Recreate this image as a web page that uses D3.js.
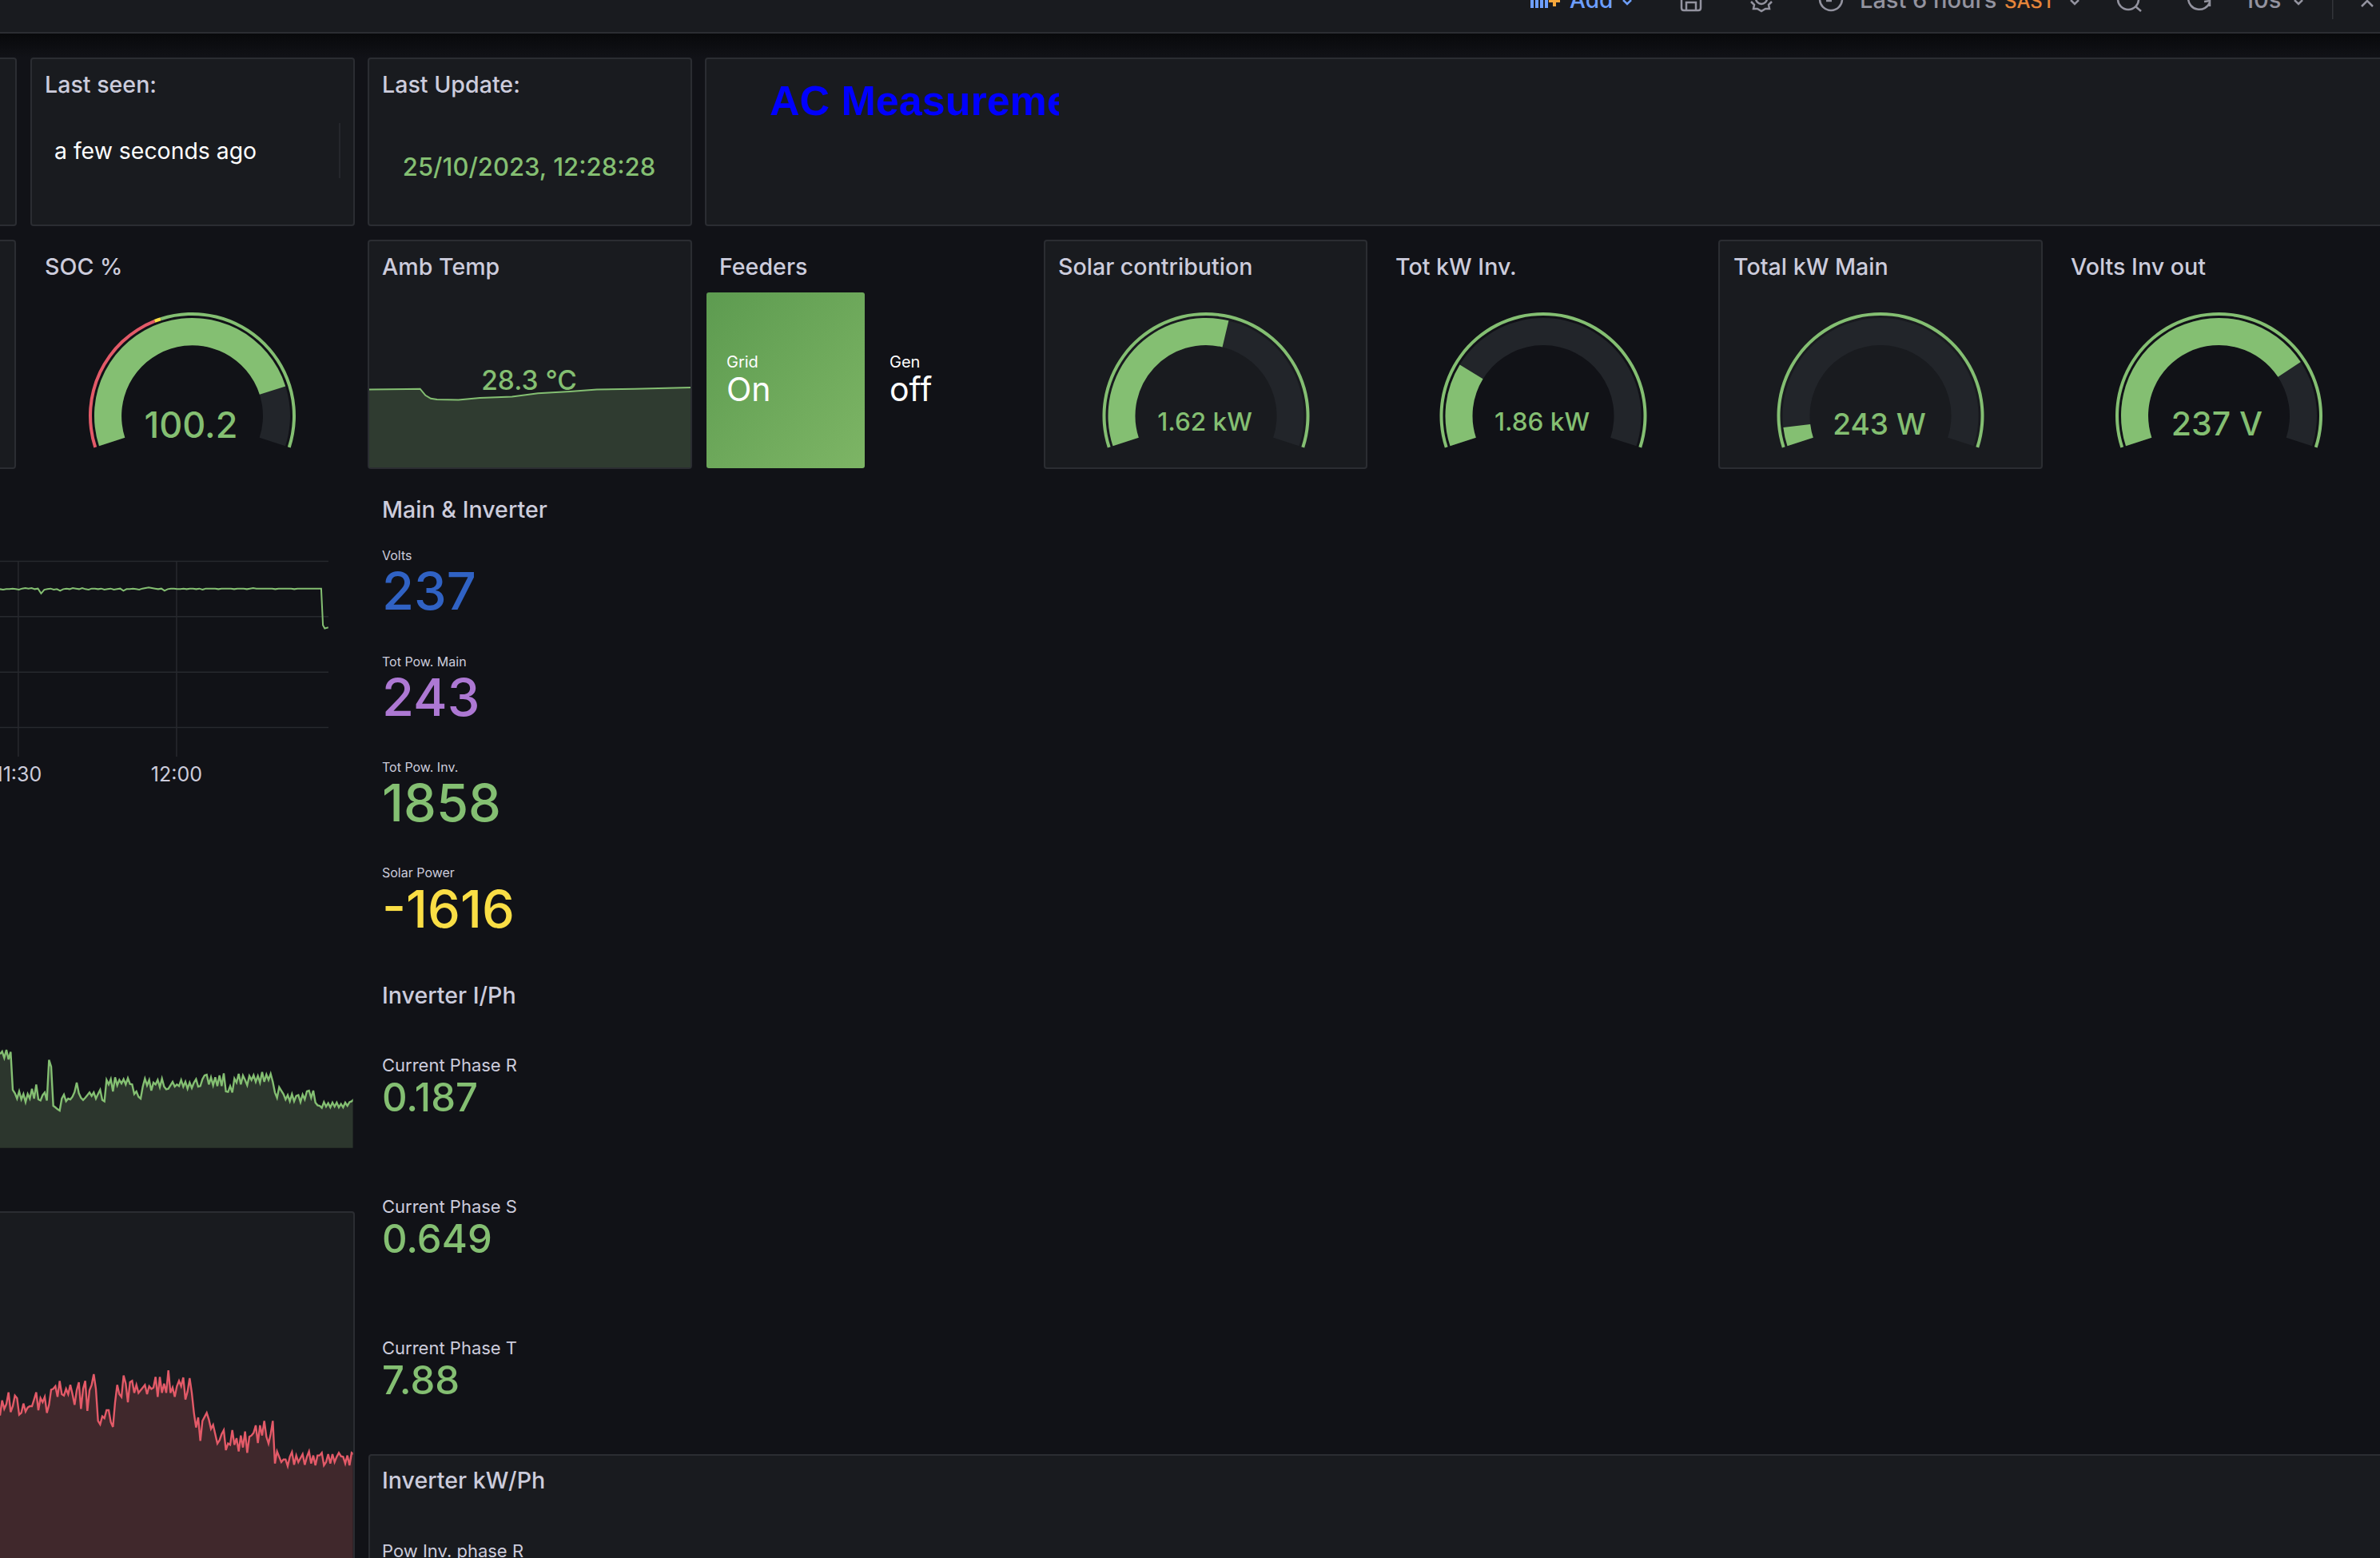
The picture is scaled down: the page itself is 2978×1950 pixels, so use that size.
<!DOCTYPE html>
<html>
<head>
<meta charset="utf-8">
<script src="https://cdn.jsdelivr.net/npm/d3@7"></script>
<style>
  html, body { margin: 0; padding: 0; background: #111217; overflow: hidden; }
  text { font-family: Inter, "Noto Sans", sans-serif; }
</style>
</head>
<body>
<svg id="dash" width="2978" height="1950"></svg>
<script>
// gauges
const gaugeTitles = ['SOC %', 'Solar contribution', 'Tot kW Inv.', 'Total kW Main', 'Volts Inv out'];
const gaugeValues = [100.2, 1616, 1858, 243, 237];
const gaugeLabels = ['100.2', '1.62 kW', '1.86 kW', '243 W', '237 V'];
const gaugeMaxes = [120, 2875, 8100, 4700, 311];
const socThresholds = [0, 48, 50, 120];

// stats
const mainLabels = ['Volts', 'Tot Pow. Main', 'Tot Pow. Inv.', 'Solar Power'];
const mainValues = ['237', '243', '1858', '-1616'];
const phaseLabels = ['Current Phase R', 'Current Phase S', 'Current Phase T'];
const phaseValues = ['0.187', '0.649', '7.88'];

// amb temp sparkline, minutes into the 6h range
const tempMinutes = [0, 57, 63, 69, 76, 100, 124, 160, 189, 225, 255, 297, 360];
const tempValues = [28.14, 28.2, 27.7, 27.46, 27.38, 27.36, 27.5, 27.6, 27.86, 28.0, 28.14, 28.2, 28.3];

// volts graph, one sample every 36 s from 11:26:36
const voltSamples = [
  244.9, 244.8, 244.9, 244.9, 245.0, 244.9, 244.8, 245.0, 245.1, 245.0, 245.1, 244.9, 245.0, 244.1, 244.8, 244.9,
  245.0, 244.8, 244.9, 244.6, 244.9, 245.0, 244.9, 245.1, 245.0, 244.9, 245.1, 244.9, 244.8, 245.0, 245.0, 244.9,
  245.0, 244.8, 244.9, 245.0, 244.8, 244.9, 245.0, 244.6, 244.9, 244.9, 245.0, 244.9, 244.8, 245.0, 245.1, 245.2,
  245.1, 245.0, 244.9, 245.0, 244.6, 244.9, 245.0, 245.0, 244.9, 244.9, 245.0, 244.9, 245.0, 245.0, 244.9, 245.0,
  244.8, 245.0, 245.0, 245.0, 245.0, 244.9, 245.0, 245.0, 245.0, 245.0, 244.9, 245.0, 245.0, 245.0, 244.9, 245.0,
  245.1, 245.0, 245.0, 245.0, 245.0, 245.0, 245.0, 244.9, 245.0, 245.0, 245.0, 245.0, 245.0, 244.9, 245.0, 245.0,
  245.0, 245.0, 245.0, 245.0, 245.0
];
const voltTailTimes = ['12:27:30', '12:27:50', '12:28:10', '12:28:50'];
const voltTailValues = [245.0, 238.4, 237.8, 238.0];
const voltGridTicks = [250, 240, 230, 220];

// green and red graphs, evenly spaced samples
const greenSamples = [
  3.52, 3.62, 3.38, 3.68, 3.32, 3.60, 2.18, 2.05, 1.85, 2.12, 1.82, 2.02, 1.72, 2.02, 1.85, 2.22, 1.85, 2.38, 1.82,
  1.78, 1.98, 2.08, 1.78, 3.30, 3.05, 1.58, 1.52, 1.45, 1.40, 1.85, 2.00, 1.75, 1.85, 1.82, 1.92, 2.10, 2.45, 2.05,
  1.88, 1.80, 1.88, 1.98, 2.08, 1.95, 2.08, 1.85, 2.02, 2.18, 1.80, 1.75, 2.55, 2.38, 2.58, 2.12, 2.65, 2.35, 2.55,
  2.42, 2.58, 2.38, 2.62, 2.40, 2.38, 2.02, 2.12, 1.92, 1.85, 2.30, 2.60, 2.35, 2.55, 2.15, 2.45, 2.38, 2.55, 2.28,
  2.60, 2.30, 2.20, 2.22, 2.35, 2.48, 2.30, 2.38, 2.32, 2.55, 2.30, 2.48, 2.22, 2.45, 2.25, 2.45, 2.58, 2.30, 2.32,
  2.58, 2.72, 2.75, 2.38, 2.65, 2.35, 2.65, 2.32, 2.72, 2.32, 2.80, 2.12, 2.10, 2.32, 2.08, 2.60, 2.45, 2.78, 2.38,
  2.72, 2.55, 2.35, 2.70, 2.55, 2.73, 2.48, 2.70, 2.45, 2.85, 2.48, 2.75, 2.55, 2.78, 2.48, 2.08, 1.88, 2.28, 2.15,
  2.02, 1.82, 1.98, 1.75, 2.02, 1.75, 1.95, 1.98, 1.72, 2.00, 1.82, 2.12, 2.15, 1.88, 2.15, 1.70, 1.60, 1.58, 1.50,
  1.72, 1.55, 1.68, 1.52, 1.70, 1.55, 1.70, 1.52, 1.65, 1.52, 1.70, 1.58, 1.72, 1.75, 1.82
];
const redSamples = [
  5.35, 5.92, 5.60, 5.78, 6.22, 5.48, 5.70, 6.10, 6.00, 5.38, 5.45, 5.80, 5.50, 5.65, 5.70, 5.70, 5.95, 6.22, 5.55,
  6.00, 5.85, 6.05, 5.45, 5.75, 6.32, 6.35, 6.45, 6.05, 6.65, 6.15, 6.10, 6.35, 6.15, 6.50, 6.15, 5.75, 6.30, 6.60,
  5.60, 6.35, 6.65, 5.52, 6.30, 6.50, 6.90, 6.35, 5.15, 5.02, 5.32, 5.25, 5.55, 5.55, 5.10, 4.92, 5.85, 6.50, 6.15,
  6.05, 6.85, 6.55, 5.85, 6.60, 6.65, 6.20, 6.50, 6.20, 6.30, 6.40, 6.50, 6.15, 6.45, 6.35, 6.40, 6.80, 6.05, 6.80,
  6.20, 6.55, 6.20, 7.05, 6.20, 6.40, 6.05, 6.45, 6.65, 6.45, 6.78, 5.95, 6.25, 6.75, 6.20, 5.45, 4.90, 5.28, 4.40,
  5.15, 5.30, 5.45, 5.20, 4.85, 5.00, 4.65, 4.30, 4.42, 4.65, 4.80, 4.05, 4.30, 4.25, 4.80, 4.25, 4.50, 4.00, 4.60,
  4.15, 4.75, 3.95, 4.55, 4.60, 4.70, 4.98, 4.32, 4.98, 4.60, 5.15, 4.55, 4.30, 4.65, 5.15, 3.55, 4.00, 3.80, 3.60,
  3.70, 3.70, 3.45, 3.80, 3.98, 3.50, 3.85, 3.60, 3.75, 3.90, 3.50, 3.80, 4.00, 3.55, 3.85, 3.48, 3.85, 3.85, 3.95,
  3.48, 3.60, 3.90, 3.55, 3.90, 3.60, 3.80, 3.95, 3.82, 3.80, 3.55, 3.85, 3.48, 3.95, 3.90
];

const BG = '#111217', PANEL = '#191b1f', BORDER = '#2b2d32', TITLE = '#ccccdc';
const GREEN = '#84bf72', RED = '#e35a68', YELLOW = '#fade45', TRACK = '#22252a';

const svg = d3.select('#dash');
const defs = svg.append('defs');
const rad = d => d * Math.PI / 180;

const clip = (id, x, y, w, h) =>
  defs.append('clipPath').attr('id', id).append('rect').attr('x', x).attr('y', y).attr('width', w).attr('height', h);

const grad = defs.append('linearGradient').attr('id', 'shade').attr('x1', 0).attr('x2', 0).attr('y1', 0).attr('y2', 1);
grad.append('stop').attr('offset', 0).attr('stop-color', '#08090b');
grad.append('stop').attr('offset', 1).attr('stop-color', BG);

const gridGrad = defs.append('linearGradient').attr('id', 'gridBg').attr('x1', 0).attr('x2', 1).attr('y1', 0).attr('y2', 1);
gridGrad.append('stop').attr('offset', 0).attr('stop-color', '#5d9b50');
gridGrad.append('stop').attr('offset', 1).attr('stop-color', '#7db565');

const panel = (x, y, w, h) =>
  svg.append('rect').attr('x', x + 1).attr('y', y + 1).attr('width', w - 2).attr('height', h - 2)
    .attr('rx', 3).attr('fill', PANEL).attr('stroke', BORDER).attr('stroke-width', 2);

const label = (x, y, str, size, fill, weight = 400) =>
  svg.append('text').attr('x', x).attr('y', y).attr('font-size', size).attr('font-weight', weight).attr('fill', fill).text(str);

const title = (x, y, str) => label(x, y, str, 28.6, TITLE, 500);

// page + toolbar
svg.append('rect').attr('width', 2978).attr('height', 1950).attr('fill', BG);
svg.append('rect').attr('y', 42).attr('width', 2978).attr('height', 30).attr('fill', 'url(#shade)');
svg.append('rect').attr('width', 2978).attr('height', 40).attr('fill', PANEL);
svg.append('rect').attr('y', 40).attr('width', 2978).attr('height', 2).attr('fill', BORDER);

const DIM = '#93939f';
label(1964, 10, 'Add', 28, '#6e9fff', 500);
label(2327, 10, 'Last 6 hours', 29, DIM, 500);
label(2508, 10, 'SAST', 24, '#e5853a', 500);
label(2808, 10, '10s', 29, DIM, 500);
[1915, 1921, 1927, 1933].forEach(x =>
  svg.append('rect').attr('x', x).attr('y', 0).attr('width', 4).attr('height', 10).attr('fill', '#6e9fff'));
svg.append('path').attr('d', 'M1945,-6V8M1938,1H1952').attr('stroke', '#f5a73c').attr('stroke-width', 4).attr('fill', 'none');
const chevrons = [2036, 2596, 2876];
chevrons.forEach((x, i) =>
  svg.append('path').attr('d', `M${x - 5},0L${x},5L${x + 5},0`).attr('fill', 'none')
    .attr('stroke', i ? DIM : '#6e9fff').attr('stroke-width', 2.5));
const icon = d => svg.append('path').attr('d', d).attr('fill', 'none').attr('stroke', DIM).attr('stroke-width', 2.5);
icon('M2104,-5V10Q2104,13 2107,13H2125Q2128,13 2128,10V-5M2110,13V3H2122V13');
icon('M2191,2L2195,6L2194,11L2199,11L2204,14L2209,11L2214,11L2213,6L2217,2');
svg.append('circle').attr('cx', 2204).attr('cy', -2).attr('r', 7).attr('fill', 'none').attr('stroke', DIM).attr('stroke-width', 2.5);
svg.append('circle').attr('cx', 2291).attr('cy', -1).attr('r', 14).attr('fill', 'none').attr('stroke', DIM).attr('stroke-width', 2.5);
icon('M2285,1H2292');
svg.append('circle').attr('cx', 2663).attr('cy', -1).attr('r', 13).attr('fill', 'none').attr('stroke', DIM).attr('stroke-width', 2.5);
icon('M2672,8L2679,14');
icon('M2738,-2A14,14 0 0 0 2765,3M2765,8L2765,1L2758,2');
svg.append('rect').attr('x', 2918).attr('y', 0).attr('width', 1.5).attr('height', 24).attr('fill', '#33353a');
icon('M2953,-4L2971,-4M2955,8L2962,1L2969,8');

// row 1
panel(-30, 72, 51, 211);
panel(38, 72, 406, 211);
panel(460, 72, 406, 211);
panel(882, 72, 2200, 211);
title(56, 116, 'Last seen:');
label(68, 199, 'a few seconds ago', 28.4, '#ffffff');
svg.append('rect').attr('x', 424.5).attr('y', 154).attr('width', 1).attr('height', 69).attr('fill', '#33353a');
title(478, 116, 'Last Update:');
svg.append('text').attr('x', 662).attr('y', 220).attr('text-anchor', 'middle').attr('font-size', 31)
  .attr('font-weight', 500).attr('fill', GREEN).text('25/10/2023, 12:28:28');
clip('acClip', 882, 72, 443, 211);
svg.append('text').attr('clip-path', 'url(#acClip)').attr('x', 963).attr('y', 144).attr('font-size', 52)
  .attr('font-weight', 700).attr('fill', '#0000ff').style('font-family', '"Liberation Sans", Arial, sans-serif').text('AC Measurements');

// row 2 panels
panel(-30, 300, 50, 287);
panel(460, 300, 406, 287);
panel(1306, 300, 405, 287);
panel(2150, 300, 406, 287);
title(478, 344, 'Amb Temp');
title(900, 344, 'Feeders');

// amb temp sparkline
const tempX = d3.scaleLinear().domain([0, 360]).range([462, 864]);
const tempY = d3.scaleLinear().domain([22.2, 28.3]).range([585, 485]);
const tempData = tempMinutes.map((m, i) => [m, tempValues[i]]);
svg.append('path').datum(tempData).attr('fill', '#2f3b30')
  .attr('d', d3.area().x(d => tempX(d[0])).y0(tempY(22.2)).y1(d => tempY(d[1])));
svg.append('path').datum(tempData).attr('fill', 'none').attr('stroke', GREEN).attr('stroke-width', 2)
  .attr('d', d3.line().x(d => tempX(d[0])).y(d => tempY(d[1])));
svg.append('text').attr('x', 662).attr('y', 488).attr('text-anchor', 'middle').attr('font-size', 33.5)
  .attr('font-weight', 500).attr('fill', GREEN).text('28.3 °C');

// feeders
svg.append('rect').attr('x', 884).attr('y', 366).attr('width', 198).attr('height', 220).attr('rx', 3).attr('fill', 'url(#gridBg)');
label(909, 460, 'Grid', 20, '#ffffff');
label(909, 502, 'On', 41, '#ffffff');
label(1113, 460, 'Gen', 20, '#ffffff');
label(1113, 502, 'off', 41, '#ffffff');

// gauges
const gaugeCx = [240.5, 1509, 1931, 2353, 2776.5];
const gaugeTextCx = [239, 1507.5, 1929.5, 2351.5, 2774];
const gaugeFont = [45, 31.5, 31.5, 37, 41];
const gaugeBase = [548, 539, 539, 544, 545];
const gaugeTitleX = [56, 1324, 1746, 2169, 2591];
const gaugeCy = 520.5;
const bar = d3.arc().innerRadius(88.5).outerRadius(122.5);
const ring = d3.arc().innerRadius(125.5).outerRadius(129.5);

gaugeTitles.forEach((name, i) => {
  const angle = d3.scaleLinear().domain([0, gaugeMaxes[i]]).range([rad(-108), rad(108)]);
  title(gaugeTitleX[i], 344, name);
  const g = svg.append('g').attr('transform', `translate(${gaugeCx[i]},${gaugeCy})`);
  g.append('path').attr('fill', TRACK).attr('d', bar({ startAngle: angle(0), endAngle: angle(gaugeMaxes[i]) }));
  g.append('path').attr('fill', GREEN).attr('d', bar({ startAngle: angle(0), endAngle: angle(gaugeValues[i]) }));
  const steps = i === 0 ? socThresholds : [0, gaugeMaxes[i]];
  const colors = i === 0 ? [RED, YELLOW, GREEN] : [GREEN];
  colors.forEach((c, k) =>
    g.append('path').attr('fill', c).attr('d', ring({ startAngle: angle(steps[k]), endAngle: angle(steps[k + 1]) })));
  svg.append('text').attr('x', gaugeTextCx[i]).attr('y', gaugeBase[i]).attr('text-anchor', 'middle')
    .attr('font-size', gaugeFont[i]).attr('font-weight', 500).attr('fill', GREEN).text(gaugeLabels[i]);
});

// volts graph
const parseT = d3.timeParse('%H:%M:%S');
const voltX = d3.scaleTime().domain([parseT('11:30:00'), parseT('12:00:00')]).range([22.4, 220.4]);
const voltY = d3.scaleLinear().domain([250, 220]).range([702, 910]);
const voltData = voltSamples.map((v, i) => [d3.timeSecond.offset(parseT('11:26:36'), i * 36), v])
  .concat(voltTailTimes.map((t, i) => [parseT(t), voltTailValues[i]]));

const yGrid = svg.append('g').attr('transform', 'translate(0,0)')
  .call(d3.axisRight(voltY).tickValues(voltGridTicks).tickSize(411).tickFormat(''));
yGrid.select('.domain').remove();
yGrid.selectAll('line').attr('stroke', '#27292e').attr('stroke-width', 1.5);

const xGrid = svg.append('g').attr('transform', 'translate(0,947)')
  .call(d3.axisBottom(voltX).tickValues([parseT('11:30:00'), parseT('12:00:00')]).tickSize(-245).tickPadding(20)
    .tickFormat(d3.timeFormat('%H:%M')));
xGrid.select('.domain').remove();
xGrid.selectAll('line').attr('stroke', '#27292e').attr('stroke-width', 1.5);
xGrid.selectAll('text').attr('fill', TITLE).attr('font-size', 25).attr('dy', 0).attr('y', 31);

svg.append('path').datum(voltData).attr('fill', 'none').attr('stroke', GREEN).attr('stroke-width', 2)
  .attr('d', d3.line().x(d => voltX(d[0])).y(d => voltY(d[1])));

// green + red graphs
const sampleX = n => d3.scaleLinear().domain([0, n - 1]).range([0, (n - 1) * 8 / 3]);
clip('greenClip', 0, 1270, 441.6, 180);
const gx = sampleX(greenSamples.length);
const gy = d3.scaleLinear().domain([0, 4.7]).range([1436.7, 1280]);
svg.append('path').datum(greenSamples).attr('clip-path', 'url(#greenClip)').attr('fill', '#2c362d')
  .attr('d', d3.area().x((d, i) => gx(i)).y0(gy(0)).y1(d => gy(d)));
svg.append('path').datum(greenSamples).attr('clip-path', 'url(#greenClip)').attr('fill', 'none').attr('stroke', GREEN).attr('stroke-width', 2.4)
  .attr('d', d3.line().x((d, i) => gx(i)).y(d => gy(d)));

panel(-30, 1516, 474, 460);
clip('redClip', 0, 1520, 441.6, 430);
const rx = sampleX(redSamples.length);
const ry = d3.scaleLinear().domain([0, 8.1]).range([1950, 1680]);
svg.append('path').datum(redSamples).attr('clip-path', 'url(#redClip)').attr('fill', '#40282c')
  .attr('d', d3.area().x((d, i) => rx(i)).y0(ry(0)).y1(d => ry(d)));
svg.append('path').datum(redSamples).attr('clip-path', 'url(#redClip)').attr('fill', 'none').attr('stroke', RED).attr('stroke-width', 2.4)
  .attr('d', d3.line().x((d, i) => rx(i)).y(d => ry(d)));

// Main & Inverter stats
const mainColors = ['#3062c4', '#ad78d3', GREEN, YELLOW];
const mainLabelY = [701, 834, 966, 1098];
const mainValueY = [763, 896, 1028, 1161];
title(478, 648, 'Main & Inverter');
mainLabels.forEach((t, i) => {
  label(478, mainLabelY[i], t, 16, TITLE);
  label(478, mainValueY[i], mainValues[i], 65, mainColors[i], 500);
});

// Inverter I/Ph stats
const phaseLabelY = [1341, 1518, 1695];
const phaseValueY = [1391, 1568, 1745];
title(478, 1256, 'Inverter I/Ph');
phaseLabels.forEach((t, i) => {
  label(478, phaseLabelY[i], t, 22, TITLE);
  label(478, phaseValueY[i], phaseValues[i], 49, GREEN, 500);
});

// Inverter kW/Ph
panel(461, 1820, 2600, 200);
title(478, 1863, 'Inverter kW/Ph');
label(478, 1949, 'Pow Inv. phase R', 22, TITLE);
</script>
</body>
</html>
